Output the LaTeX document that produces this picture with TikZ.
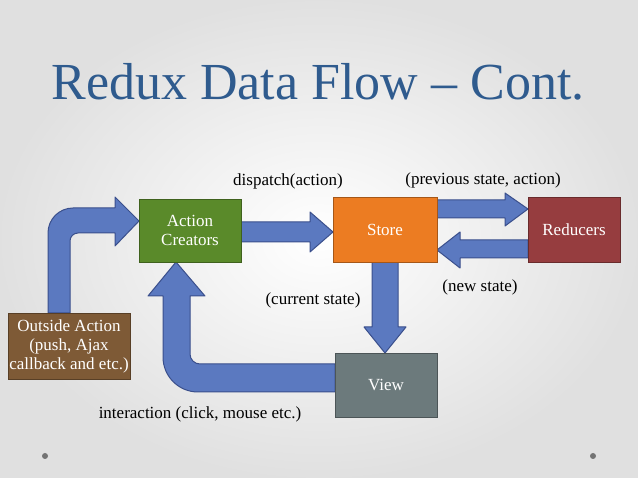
\documentclass[tikz,border=0pt]{standalone}
\usepackage{fontspec}
\setmainfont{Liberation Serif}
\begin{document}
\begin{tikzpicture}[x=1pt,y=-1pt,
  box/.style={draw=#1!70!black,fill=#1,line width=0.8pt,text=white,font=\fontsize{17}{19}\selectfont,align=center,inner sep=0},
  barrow/.style={fill=arrowblue,draw=arrowdark,line width=1pt,line join=round},
  lbl/.style={font=\fontsize{17}{19}\selectfont,text=black}]
\definecolor{arrowblue}{HTML}{5B79C0}
\definecolor{arrowdark}{HTML}{3A4F8C}
\definecolor{acg}{HTML}{5A8A2A}
\definecolor{sto}{HTML}{EC7C22}
\definecolor{red}{HTML}{963D3F}
\definecolor{vie}{HTML}{6C7A7C}
\definecolor{out}{HTML}{7E5A36}
\definecolor{ttl}{HTML}{2F5B8E}
\useasboundingbox (0,0) rectangle (638,478);
\shade[inner color=white,outer color=black!12] (0,0) rectangle (638,478);
\node[text=ttl,font=\fontsize{52}{56}\selectfont] (title) at (318,82) {Redux Data Flow -- Cont.};
% arrows
\draw[barrow] (241,222) -- (310,222) -- (310,212) -- (333,232) -- (310,252) -- (310,242) -- (241,242) -- cycle;
\draw[barrow] (437,200) -- (505,200) -- (505,193) -- (528,209) -- (505,226) -- (505,218) -- (437,218) -- cycle;
\draw[barrow] (528,240) -- (460,240) -- (460,232) -- (437,250) -- (460,268) -- (460,258) -- (528,258) -- cycle;
\draw[barrow] (372,262) -- (372,327) -- (364,327) -- (385,353) -- (406,327) -- (398,327) -- (398,262) -- cycle;
\draw[barrow] (335,364) [rounded corners=10] -- (190,364) [sharp corners] -- (190,296) -- (205,296) -- (176,262) -- (148,296) -- (163,296) [rounded corners=35] -- (163,392) [sharp corners] -- (335,392) -- cycle;
\draw[barrow] (48,313) [rounded corners=25] -- (48,208) [sharp corners] -- (115,208) -- (115,197) -- (139,221) -- (115,246) -- (115,233) [rounded corners=8] -- (70,233) [sharp corners] -- (70,313) -- cycle;
% boxes
\node[box=acg,minimum width=102,minimum height=63] (ac) at (190,230.5) {Action\\Creators};
\node[box=sto,minimum width=104,minimum height=65] (store) at (385,229.5) {Store};
\node[box=red,minimum width=92,minimum height=65] (red) at (574,229.5) {Reducers};
\node[box=vie,minimum width=102,minimum height=64] (view) at (386,385) {View};
\node[box=out,minimum width=122,minimum height=66] (outside) at (69,346) {Outside Action\\(push, Ajax\\callback and etc.)};
% labels
\node[lbl] (l1) at (288,181) {dispatch(action)};
\node[lbl] (l2) at (483,180) {(previous state, action)};
\node[lbl] (l3) at (480,287) {(new state)};
\node[lbl] (l4) at (313,300) {(current state)};
\node[lbl] (l5) at (200,414) {interaction (click, mouse etc.)};
\fill[black!55] (45,456) circle (3) (593,456) circle (3);
\end{tikzpicture}
\end{document}
